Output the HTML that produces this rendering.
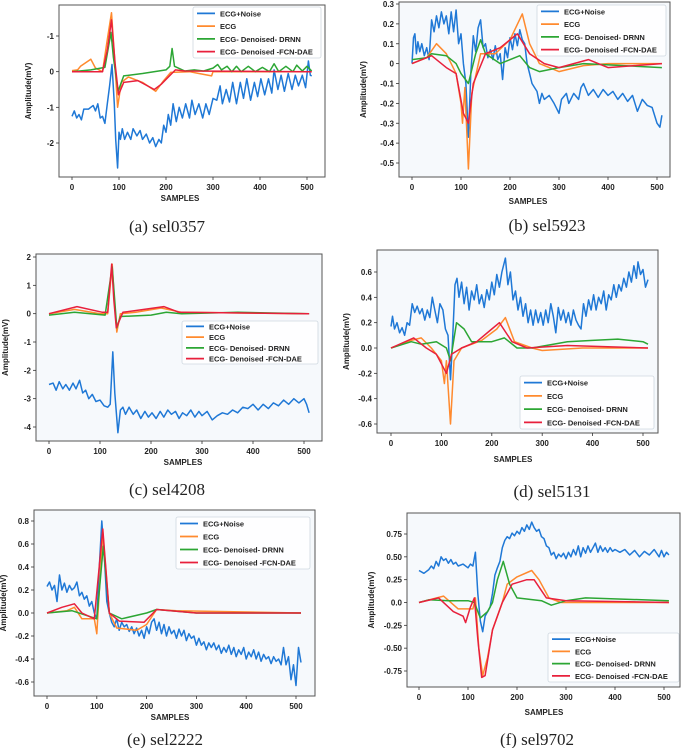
<!DOCTYPE html>
<html><head><meta charset="utf-8"><style>
html,body{margin:0;padding:0;background:#fff;}
svg{display:block;}
text{font-family:"Liberation Sans",sans-serif;}
.cap{font-family:"Liberation Serif",serif;font-size:17px;fill:#222;}
</style></head><body>
<svg id="fig" width="685" height="748" viewBox="0 0 685 748" xmlns="http://www.w3.org/2000/svg"></svg>
<script>
// ---------- DATA: [sample, amplitude] ----------
// (a) sel0357
const aNoise=[[0,-1.25],[5,-1.1],[10,-1.3],[15,-1.2],[20,-1.35],[25,-1.05],[35,-1.05],[40,-1.0],[45,-0.95],[50,-1.1],[55,-0.9],[60,-1.3],[65,-1.25],[70,-1.45],[75,-0.9],[80,-0.4],[85,0.2],[90,-0.9],[93,-1.9],[97,-2.7],[100,-1.7],[103,-1.9],[107,-1.6],[112,-1.9],[118,-1.7],[125,-1.9],[130,-1.6],[138,-1.8],[145,-1.65],[150,-1.9],[158,-1.75],[165,-2.0],[172,-1.85],[178,-2.1],[185,-1.9],[190,-2.0],[195,-1.5],[200,-1.7],[205,-1.2],[210,-1.5],[215,-0.9],[222,-1.4],[228,-1.0],[235,-1.3],[242,-0.9],[250,-1.3],[255,-0.8],[262,-1.2],[270,-0.9],[278,-1.3],[285,-0.9],[292,-1.2],[300,-0.75],[308,-0.8],[315,-0.4],[320,-0.9],[328,-0.5],[335,-0.85],[342,-0.3],[350,-0.9],[358,-0.3],[365,-0.75],[372,-0.2],[380,-0.8],[388,-0.3],[395,-0.7],[402,-0.2],[410,-0.65],[418,-0.2],[425,-0.6],[430,0.05],[438,-0.5],[445,-0.1],[452,-0.55],[460,-0.05],[468,-0.5],[475,-0.1],[482,-0.4],[490,-0.1],[497,-0.45],[503,0.3],[507,-0.1],[510,-0.12]];
const aClean=[[0,0.03],[12,0.05],[18,0.15],[40,0.35],[50,0.1],[65,0.0],[75,0.9],[84,1.65],[90,0.5],[97,-1.0],[105,-0.3],[120,-0.15],[150,-0.3],[178,-0.55],[195,-0.25],[210,-0.02],[250,0.0],[270,-0.05],[297,-0.12],[300,0.0],[510,0.0]];
const aDrnn=[[0,0.0],[40,0.05],[70,0.12],[83,1.1],[88,0.4],[98,-0.55],[110,-0.12],[150,-0.05],[200,0.05],[208,0.15],[213,0.65],[218,0.15],[240,0.02],[260,0.05],[280,0.02],[300,0.1],[310,0.2],[318,0.05],[330,0.15],[340,0.0],[350,0.15],[360,0.0],[375,0.15],[390,0.0],[405,0.12],[420,0.0],[430,0.22],[440,0.0],[455,0.15],[470,0.0],[478,0.18],[490,0.02],[500,0.15],[510,0.02]];
const aFcn=[[0,0.0],[65,0.0],[75,0.6],[84,1.45],[92,0.2],[99,-0.65],[110,-0.3],[140,-0.25],[175,-0.5],[190,-0.35],[220,0.05],[240,0.02],[510,0.0]];
// (b) sel5923
const bNoise=[[0,0.0],[3,0.13],[6,0.15],[9,0.05],[12,0.11],[16,0.06],[20,0.1],[25,0.04],[30,0.08],[35,0.02],[40,0.22],[45,0.16],[50,0.24],[55,0.18],[60,0.26],[65,0.2],[70,0.24],[75,0.15],[80,0.26],[85,0.16],[90,0.27],[95,0.1],[100,0.15],[105,0.0],[110,-0.1],[115,-0.37],[120,-0.05],[125,0.14],[130,0.06],[135,0.18],[140,0.22],[145,0.08],[150,0.1],[155,0.03],[160,0.07],[165,0.02],[170,0.09],[175,0.02],[180,0.05],[185,-0.08],[190,0.08],[195,0.03],[200,0.13],[205,0.07],[210,0.15],[215,0.09],[220,0.17],[225,0.12],[230,0.1],[235,0.0],[240,-0.05],[245,-0.1],[250,-0.12],[255,-0.14],[260,-0.2],[265,-0.15],[270,-0.18],[280,-0.16],[290,-0.2],[300,-0.25],[305,-0.18],[315,-0.15],[320,-0.2],[330,-0.15],[340,-0.18],[345,-0.12],[350,-0.1],[360,-0.16],[370,-0.13],[380,-0.17],[390,-0.13],[400,-0.16],[410,-0.14],[420,-0.18],[430,-0.15],[440,-0.19],[450,-0.16],[460,-0.24],[470,-0.18],[480,-0.21],[490,-0.22],[500,-0.3],[506,-0.32],[510,-0.26]];
const bClean=[[0,0.0],[30,0.03],[50,0.1],[70,0.05],[90,-0.05],[100,-0.2],[103,-0.3],[108,-0.12],[115,-0.53],[122,-0.15],[140,0.05],[170,0.05],[200,0.12],[225,0.25],[240,0.1],[260,0.0],[300,-0.04],[350,-0.01],[400,0.0],[510,0.0]];
const bDrnn=[[0,0.02],[30,0.03],[40,0.05],[70,0.04],[90,0.0],[100,-0.05],[115,-0.1],[130,0.05],[140,0.12],[150,0.05],[180,0.0],[220,0.04],[240,-0.02],[260,-0.04],[300,-0.02],[350,0.0],[510,-0.02]];
const bFcn=[[0,0.0],[40,0.04],[70,-0.02],[90,-0.05],[105,-0.25],[115,-0.3],[125,-0.1],[150,0.05],[180,0.08],[215,0.15],[240,0.05],[270,0.0],[300,-0.02],[360,0.02],[400,-0.02],[510,0.0]];
// (c) sel4208
const cNoise=[[0,-2.5],[8,-2.45],[14,-2.7],[20,-2.4],[27,-2.65],[33,-2.5],[40,-2.7],[47,-2.45],[53,-2.65],[60,-2.35],[66,-2.8],[72,-2.7],[78,-3.0],[85,-2.85],[92,-3.1],[100,-3.05],[108,-3.25],[115,-3.3],[120,-3.2],[125,-1.35],[129,-2.8],[135,-4.2],[140,-3.4],[145,-3.3],[150,-3.55],[157,-3.3],[165,-3.55],[172,-3.4],[180,-3.7],[188,-3.45],[195,-3.65],[202,-3.5],[210,-3.7],[218,-3.45],[225,-3.65],[233,-3.4],[240,-3.55],[248,-3.45],[255,-3.7],[262,-3.5],[270,-3.6],[278,-3.4],[286,-3.65],[294,-3.45],[300,-3.6],[310,-3.45],[320,-3.75],[330,-3.6],[340,-3.5],[350,-3.55],[360,-3.4],[370,-3.5],[380,-3.3],[390,-3.35],[400,-3.2],[410,-3.4],[420,-3.2],[430,-3.35],[440,-3.15],[450,-3.25],[460,-3.05],[470,-3.2],[480,-3.0],[490,-3.15],[500,-3.0],[505,-3.2],[510,-3.5]];
const cClean=[[0,0.0],[50,0.15],[100,0.0],[115,0.0],[124,1.75],[128,0.5],[133,-0.65],[140,0.0],[170,0.05],[220,0.2],[260,0.05],[510,0.0]];
const cDrnn=[[0,-0.05],[50,0.05],[110,-0.05],[124,1.65],[133,-0.5],[140,-0.1],[200,-0.05],[230,0.05],[260,0.0],[370,0.05],[510,0.0]];
const cFcn=[[0,0.0],[55,0.25],[105,0.05],[115,0.05],[123,1.75],[127,0.5],[132,-0.5],[145,0.05],[225,0.25],[255,0.05],[510,0.0]];
// (d) sel5131
const dNoise=[[0,0.17],[3,0.25],[7,0.15],[12,0.2],[17,0.12],[22,0.16],[27,0.1],[32,0.2],[37,0.18],[42,0.35],[47,0.28],[52,0.33],[57,0.27],[62,0.31],[67,0.22],[72,0.3],[77,0.24],[82,0.4],[87,0.3],[92,0.2],[97,0.35],[103,0.3],[108,0.15],[113,0.1],[118,-0.25],[122,0.05],[127,0.5],[131,0.55],[135,0.4],[140,0.52],[145,0.35],[150,0.48],[155,0.3],[160,0.45],[165,0.38],[170,0.5],[175,0.35],[180,0.42],[185,0.32],[190,0.46],[195,0.38],[200,0.52],[205,0.42],[210,0.58],[215,0.48],[220,0.6],[227,0.71],[232,0.5],[237,0.6],[242,0.38],[247,0.45],[252,0.3],[257,0.4],[262,0.25],[267,0.35],[272,0.2],[277,0.3],[282,0.18],[287,0.3],[292,0.2],[297,0.28],[302,0.18],[307,0.3],[312,0.2],[317,0.35],[322,0.25],[327,0.12],[332,0.32],[337,0.22],[342,0.3],[347,0.2],[352,0.28],[357,0.18],[362,0.3],[367,0.22],[372,0.18],[377,0.15],[382,0.35],[387,0.25],[392,0.38],[397,0.3],[402,0.42],[407,0.3],[412,0.4],[417,0.35],[422,0.45],[427,0.3],[432,0.42],[437,0.38],[442,0.5],[447,0.4],[452,0.5],[457,0.45],[462,0.55],[467,0.48],[472,0.6],[477,0.52],[482,0.65],[487,0.55],[490,0.68],[495,0.58],[500,0.62],[505,0.48],[510,0.54]];
const dClean=[[0,0.0],[40,0.06],[60,0.08],[80,0.0],[100,-0.1],[106,-0.28],[110,-0.1],[118,-0.6],[125,-0.1],[140,0.0],[180,0.06],[210,0.15],[227,0.24],[245,0.05],[280,0.0],[300,-0.02],[380,0.0],[510,0.0]];
const dDrnn=[[0,0.0],[40,0.05],[60,0.03],[90,0.05],[110,0.0],[118,-0.1],[130,0.2],[145,0.15],[160,0.05],[200,0.05],[225,0.08],[250,0.0],[280,0.0],[350,0.05],[400,0.06],[450,0.07],[500,0.05],[510,0.03]];
const dFcn=[[0,0.0],[45,0.08],[70,0.0],[90,-0.05],[110,-0.2],[120,-0.05],[140,0.0],[170,0.05],[200,0.15],[215,0.2],[240,0.05],[270,0.0],[350,0.02],[510,0.0]];
// (e) sel2222
const eNoise=[[0,0.23],[5,0.27],[10,0.2],[15,0.24],[20,0.1],[25,0.33],[30,0.2],[35,0.26],[40,0.18],[45,0.24],[50,0.2],[55,0.22],[60,0.27],[65,0.15],[70,0.18],[75,0.12],[80,0.15],[85,0.06],[90,0.1],[95,0.0],[100,-0.05],[105,0.4],[110,0.8],[115,0.5],[120,0.1],[125,0.0],[130,-0.08],[135,-0.12],[140,-0.05],[145,-0.15],[150,-0.08],[155,-0.12],[160,-0.1],[165,-0.16],[170,-0.12],[175,-0.18],[180,-0.13],[185,-0.2],[190,-0.15],[195,-0.22],[200,-0.12],[205,-0.18],[210,-0.08],[215,-0.05],[220,-0.15],[225,-0.08],[230,-0.18],[235,-0.1],[240,-0.2],[245,-0.12],[250,-0.18],[255,-0.15],[260,-0.22],[265,-0.14],[270,-0.2],[275,-0.15],[280,-0.24],[285,-0.18],[290,-0.22],[295,-0.2],[300,-0.28],[305,-0.22],[310,-0.28],[315,-0.25],[320,-0.32],[325,-0.26],[330,-0.3],[335,-0.26],[340,-0.32],[345,-0.28],[350,-0.35],[355,-0.3],[360,-0.34],[365,-0.28],[370,-0.36],[375,-0.3],[380,-0.38],[385,-0.32],[390,-0.36],[395,-0.3],[400,-0.4],[405,-0.34],[410,-0.38],[415,-0.32],[420,-0.4],[425,-0.34],[430,-0.42],[435,-0.36],[440,-0.4],[445,-0.38],[450,-0.44],[455,-0.38],[460,-0.42],[465,-0.4],[470,-0.45],[475,-0.3],[480,-0.45],[485,-0.38],[490,-0.58],[495,-0.45],[500,-0.63],[505,-0.3],[510,-0.43]];
const eClean=[[0,0.0],[40,0.02],[55,0.05],[70,-0.05],[95,-0.05],[100,-0.18],[112,0.7],[125,0.0],[140,-0.13],[180,-0.15],[200,-0.1],[220,0.03],[260,0.02],[510,0.0]];
const eDrnn=[[0,0.0],[50,0.02],[100,-0.05],[113,0.58],[125,0.0],[150,-0.05],[200,0.0],[220,0.03],[300,0.0],[500,0.0],[510,0.0]];
const eFcn=[[0,0.0],[30,0.05],[55,0.08],[70,0.0],[95,-0.05],[112,0.73],[125,0.0],[145,-0.07],[195,-0.08],[220,0.03],[300,0.0],[510,0.0]];
// (f) sel9702
const fNoise=[[0,0.35],[10,0.32],[20,0.36],[25,0.4],[30,0.37],[35,0.45],[40,0.4],[45,0.5],[50,0.46],[55,0.48],[60,0.43],[65,0.47],[70,0.42],[75,0.44],[80,0.4],[90,0.42],[100,0.38],[105,0.42],[110,0.4],[115,0.55],[120,0.1],[125,-0.2],[130,-0.32],[135,-0.15],[140,-0.1],[145,-0.05],[150,0.1],[155,0.3],[160,0.38],[165,0.45],[170,0.6],[175,0.68],[180,0.72],[185,0.7],[190,0.76],[195,0.73],[200,0.78],[205,0.75],[210,0.82],[215,0.78],[220,0.85],[225,0.8],[230,0.88],[235,0.82],[240,0.78],[245,0.8],[250,0.72],[255,0.7],[260,0.62],[265,0.6],[270,0.52],[275,0.55],[280,0.48],[285,0.53],[290,0.5],[295,0.54],[300,0.48],[305,0.55],[310,0.5],[315,0.58],[320,0.52],[325,0.62],[330,0.5],[335,0.6],[340,0.54],[345,0.62],[350,0.55],[355,0.6],[360,0.65],[365,0.55],[370,0.62],[375,0.56],[380,0.6],[385,0.55],[390,0.6],[395,0.56],[400,0.58],[410,0.55],[420,0.58],[430,0.52],[440,0.57],[450,0.5],[460,0.56],[470,0.52],[480,0.58],[490,0.5],[495,0.57],[500,0.5],[505,0.55],[510,0.52]];
const fClean=[[0,0.0],[50,0.07],[80,-0.07],[110,-0.07],[115,0.05],[122,-0.5],[130,-0.8],[140,-0.6],[150,-0.3],[170,0.0],[180,0.2],[200,0.28],[230,0.35],[245,0.25],[265,0.05],[290,0.0],[510,0.0]];
const fDrnn=[[0,0.0],[20,0.03],[60,0.02],[100,0.02],[113,0.0],[125,-0.17],[140,-0.1],[150,0.0],[160,0.25],[172,0.45],[185,0.2],[200,0.05],[250,0.02],[270,-0.03],[300,0.02],[340,0.05],[510,0.02]];
const fFcn=[[0,0.0],[40,0.05],[70,-0.1],[90,-0.15],[95,-0.22],[105,-0.05],[113,0.05],[120,-0.4],[128,-0.82],[135,-0.8],[150,-0.3],[170,0.0],[190,0.2],[220,0.25],[235,0.25],[260,0.05],[300,0.02],[510,0.0]];

const xTicks=[0,100,200,300,400,500];
const aYTicks=[1,0,-1,-2], aYLabels=["-1","0","-1","-2"];
const bYTicks=[0.3,0.2,0.1,0,-0.1,-0.2,-0.3,-0.4,-0.5], bYLabels=["0.3","0.2","0.1","0","-0.1","-0.2","-0.3","-0.4","-0.5"];
const cYTicks=[2,1,0,-1,-2,-3,-4], cYLabels=["2","1","0","-1","-2","-3","-4"];
const dYTicks=[0.6,0.4,0.2,0,-0.2,-0.4,-0.6], dYLabels=["0.6","0.4","0.2","0.0","-0.2","-0.4","-0.6"];
const eYTicks=[0.8,0.6,0.4,0.2,0,-0.2,-0.4,-0.6], eYLabels=["0.8","0.6","0.4","0.2","0.0","-0.2","-0.4","-0.6"];
const fYTicks=[0.75,0.5,0.25,0,-0.25,-0.5,-0.75], fYLabels=["0.75","0.50","0.25","0.0","-0.25","-0.50","-0.75"];
const legendLabels=["ECG+Noise","ECG","ECG- Denoised- DRNN","ECG- Denoised -FCN-DAE"];
const COLORS=["#1f78d6","#ff8a2e","#2ca634","#e8203c"];

const NS="http://www.w3.org/2000/svg";
const svg=document.getElementById('fig');
function mk(tag,attrs,parent){const e=document.createElementNS(NS,tag);for(const k in attrs)e.setAttribute(k,attrs[k]);parent.appendChild(e);return e;}

const panels=[
 {id:"a",cap:"(a) sel0357",capX:167,capY:232,box:[59,5,325,177],x0:72,x500:307,yv:[1,-2],yp:[36,143],ticks:aYTicks,labels:aYLabels,leg:[193,7,321,58],bg:"#ffffff",series:[aNoise,aClean,aDrnn,aFcn],sx:180,sy:201},
 {id:"b",cap:"(b) sel5923",capX:547,capY:231,box:[399,2,670,177],x0:412,x500:657,yv:[0.3,-0.5],yp:[4,163],ticks:bYTicks,labels:bYLabels,leg:[537,5,666,56],bg:"#f6f9fc",series:[bNoise,bClean,bDrnn,bFcn],sx:528,sy:204},
 {id:"c",cap:"(c) sel4208",capX:167,capY:495,box:[36,254,322,441],x0:49,x500:304,yv:[2,-4],yp:[257,427],ticks:cYTicks,labels:cYLabels,leg:[182,321,318,364],bg:"#f6f9fc",series:[cNoise,cClean,cDrnn,cFcn],sx:183,sy:465},
 {id:"d",cap:"(d) sel5131",capX:552,capY:497,box:[377,250,658,433],x0:391,x500:643,yv:[0.6,-0.6],yp:[272,424],ticks:dYTicks,labels:dYLabels,leg:[520,376,654,429],bg:"#f6f9fc",series:[dNoise,dClean,dDrnn,dFcn],sx:513,sy:462},
 {id:"e",cap:"(e) sel2222",capX:165,capY:745,box:[34,510,315,696],x0:47,x500:296,yv:[0.8,-0.6],yp:[521,682],ticks:eYTicks,labels:eYLabels,leg:[176,517,310,569],bg:"#f6f9fc",series:[eNoise,eClean,eDrnn,eFcn],sx:170,sy:720},
 {id:"f",cap:"(f) sel9702",capX:537,capY:745,box:[407,513,680,687],x0:419,x500:664,yv:[0.75,-0.75],yp:[534,671],ticks:fYTicks,labels:fYLabels,leg:[548,633,679,682],bg:"#f6f9fc",series:[fNoise,fClean,fDrnn,fFcn],sx:544,sy:715}
];

panels.forEach(p=>{
 const g=mk('g',{},svg);
 
 
 const [L,T,R,B]=p.box;
 const xs=v=>p.x0+(v/500)*(p.x500-p.x0);
 const ys=v=>p.yp[0]+(v-p.yv[0])/(p.yv[1]-p.yv[0])*(p.yp[1]-p.yp[0]);
 const bg=mk('rect',{x:L,y:T,width:R-L,height:B-T,fill:p.bg},g);
 
 
 const clip=mk('clipPath',{id:'clip'+p.id},g);
 mk('rect',{x:L,y:T,width:R-L,height:B-T},clip);
 const lines=mk('g',{'clip-path':'url(#clip'+p.id+')'},g);
 const names=["noise-line","ecg-line","drnn-line","fcn-dae-line"];
 p.series.forEach((s,i)=>{
  const d=s.map((pt,j)=>(j?'L':'M')+xs(pt[0]).toFixed(1)+','+ys(pt[1]).toFixed(1)).join('');
  const path=mk('path',{d:d,fill:'none',stroke:COLORS[i],'stroke-width':1.5,'stroke-linejoin':'round'},lines);
  
  
 });
 mk('rect',{x:L,y:T,width:R-L,height:B-T,fill:'none',stroke:'#555','stroke-width':1},g);
 // x ticks
 xTicks.forEach(t=>{
  const x=xs(t);
  mk('line',{x1:x,x2:x,y1:B,y2:B+3,stroke:'#333','stroke-width':0.8},g);
  const tx=mk('text',{x:x,y:B+13,'text-anchor':'middle','font-size':8,'font-weight':'bold',fill:'#222'},g);
  tx.textContent=t;
  
  
 });
 p.ticks.forEach((t,i)=>{
  const y=ys(t);
  mk('line',{x1:L-3,x2:L,y1:y,y2:y,stroke:'#333','stroke-width':0.8},g);
  const ty=mk('text',{x:L-5,y:y+3,'text-anchor':'end','font-size':8,'font-weight':'bold',fill:'#222'},g);
  ty.textContent=p.labels[i];
  
  
 });
 const xt=mk('text',{x:p.sx,y:p.sy,'text-anchor':'middle','font-size':8,'font-weight':'bold',fill:'#222'},g);
 xt.textContent='SAMPLES';
 
 
 const ylx=L-(p.id==='b'||p.id==='f'?33:28);
 const ycy=(T+B)/2;
 const yt=mk('text',{x:ylx,y:ycy,'text-anchor':'middle','font-size':8,'font-weight':'bold',fill:'#222',transform:'rotate(-90 '+ylx+' '+ycy+')'},g);
 yt.textContent='Amplitude(mV)';
 
 
 // legend
 const [lx0,ly0,lx1,ly1]=p.leg;
 const lg=mk('g',{},g);
 
 
 mk('rect',{x:lx0,y:ly0,width:lx1-lx0,height:ly1-ly0,fill:'#fff','fill-opacity':0.85,stroke:'#cfd8e0','stroke-width':0.8,rx:2},lg);
 const rh=(ly1-ly0)/4;
 legendLabels.forEach((lab,i)=>{
  const cy=ly0+rh*(i+0.5);
  mk('line',{x1:lx0+4,x2:lx0+22,y1:cy,y2:cy,stroke:COLORS[i],'stroke-width':1.8},lg);
  const t=mk('text',{x:lx0+27,y:cy+3,'font-size':7.5,'font-weight':'bold',fill:'#222'},lg);
  t.textContent=lab;
  
  
 });
 const c=mk('text',{x:p.capX,y:p.capY,'text-anchor':'middle','class':'cap'},g);
 c.textContent=p.cap;
 
 
});
</script>
</body></html>
